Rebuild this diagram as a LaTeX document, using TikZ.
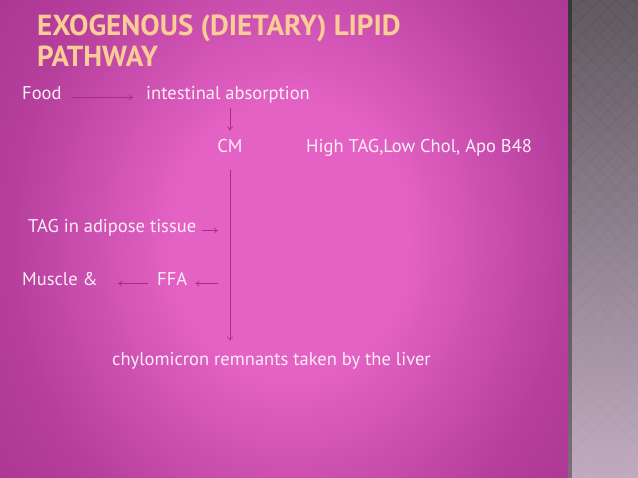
\documentclass[tikz,border=0pt]{standalone}
\usepackage{fontspec}
\setmainfont{PT Sans}
\usetikzlibrary{arrows.meta}
\definecolor{slidedark}{RGB}{126,20,110}
\definecolor{slidelight}{RGB}{228,98,196}
\definecolor{arrowpink}{RGB}{172,44,124}
\definecolor{titleorange}{RGB}{250,204,150}
\definecolor{textwhite}{RGB}{251,238,247}
\definecolor{stripdark}{RGB}{90,82,89}
\definecolor{striplight}{RGB}{190,168,190}
\pgfdeclareradialshading{slideglow}{\pgfpoint{0bp}{0bp}}{color(0bp)=(slidelight); color(10bp)=(slidelight); color(24bp)=(slidelight!55!slidedark); color(45bp)=(slidelight!22!slidedark); color(60bp)=(slidedark); color(75bp)=(slidedark!85!black)}
\tikzset{
  label text/.style={text=textwhite, font=\fontsize{18.5}{22}\selectfont, inner sep=0pt},
  title text/.style={text=titleorange, font=\fontsize{29}{32}\bfseries\selectfont, inner sep=0pt},
  flow/.style={draw=arrowpink, line width=0.6pt, -{To[length=4pt,width=6pt]}},
}
\begin{document}
\begin{tikzpicture}[x=1pt, y=-1pt]
\useasboundingbox (0,0) rectangle (638,478);
% slide background
\begin{scope}
\clip (0,0) rectangle (638,478);
\shade[shading=slideglow] (0,-100) rectangle (580,580);
\end{scope}
\shade[top color=stripdark, bottom color=striplight] (568,0) rectangle (638,478);
\begin{scope}
\clip (572,0) rectangle (638,478);
\foreach \j in {0,...,57}
  \foreach \i in {0,...,4} {
    \pgfmathsetmacro\cx{574+17*\i+8.5*mod(\j,2)}
    \fill[white, opacity=0.045] (\cx,8.5*\j-8) -- (\cx+7.5,8.5*\j) -- (\cx,8.5*\j+8) -- (\cx-7.5,8.5*\j) -- cycle;
  }
\end{scope}
\fill[black, opacity=0.35] (568,0) rectangle (572,478);

\node[title text, anchor=base west] (titleone) at (37,36) {EXOGENOUS (DIETARY) LIPID};
\node[title text, anchor=base west] (titletwo) at (37,67) {PATHWAY};

\node[label text, anchor=base west] (food) at (22,100) {Food};
\node[label text, anchor=base west] (absorb) at (146,100) {intestinal absorption};
\node[label text, anchor=base] (cm) at (230,153) {CM};
\node[label text, anchor=base west] (cmmix) at (306,153) {High TAG,Low Chol, Apo B48};
\node[label text, anchor=base west] (tag) at (28,233) {TAG in adipose tissue};
\node[label text, anchor=base west] (muscle) at (22,286) {Muscle \&};
\node[label text, anchor=base west] (ffa) at (157,286) {FFA};
\node[label text, anchor=base west] (remnant) at (112,366) {chylomicron remnants taken by the liver};

\draw[flow] ([xshift=10pt]food.mid east) -- ([xshift=-13pt]absorb.mid west);
\draw[flow] ([yshift=-4pt]absorb.south -| cm) -- ([yshift=9pt]cm.north);
\draw[flow] ([yshift=-17pt]cm.south) -- ([yshift=12pt]remnant.north -| cm);
\draw[flow] ([xshift=6pt]tag.mid east) -- ([xshift=-12pt]tag.mid east -| cm);
\draw[flow] ([xshift=-12pt]ffa.mid east -| cm) -- ([xshift=8pt]ffa.mid east);
\draw[flow] ([xshift=-9pt]ffa.mid west) -- ([xshift=20pt]muscle.mid east);
\end{tikzpicture}
\end{document}
